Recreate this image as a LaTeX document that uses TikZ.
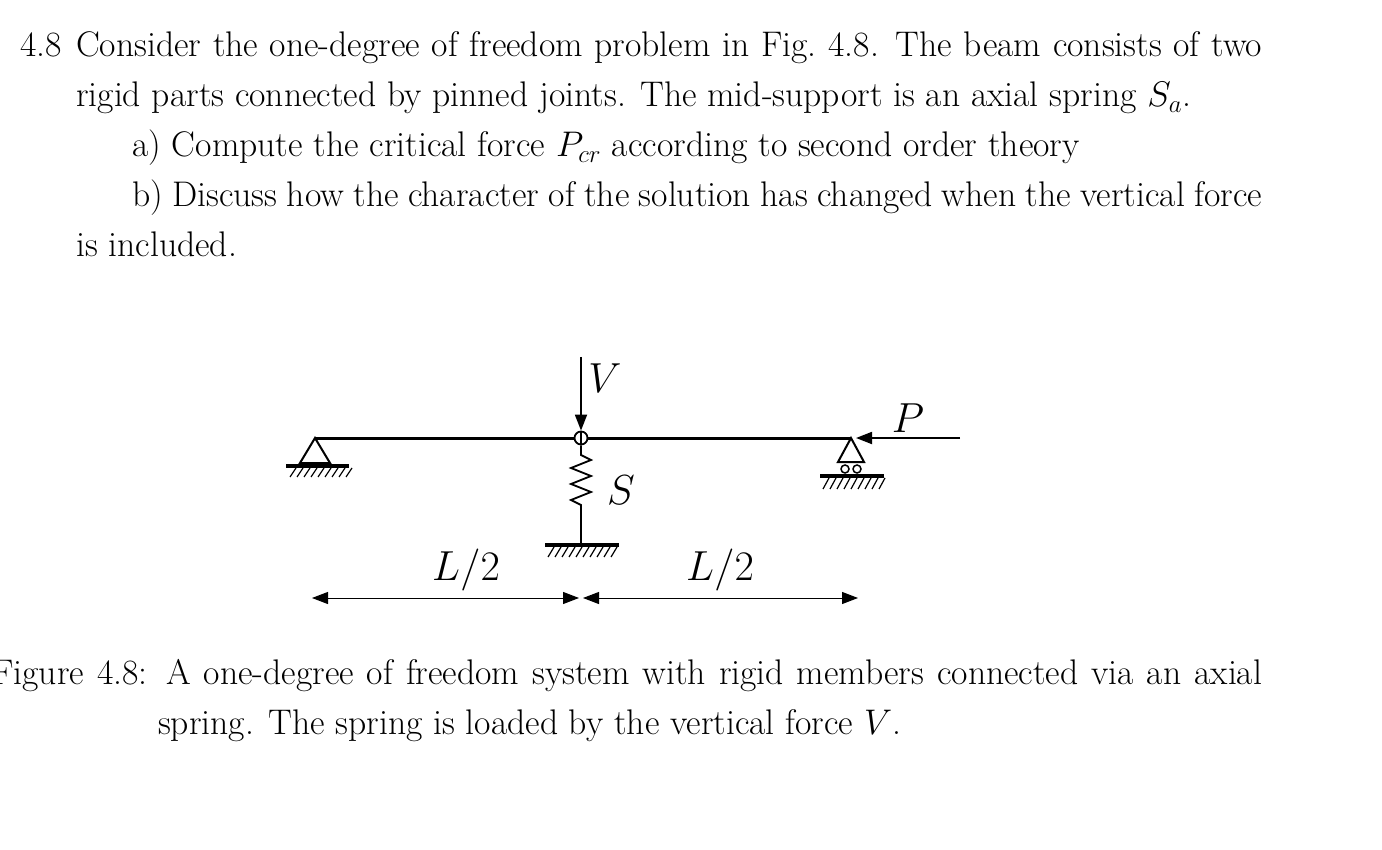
\RequirePackage{fix-cm}
\documentclass[tikz,border=0pt]{standalone}
\usetikzlibrary{arrows.meta}
\begin{document}
\begin{tikzpicture}[x=1pt,y=-1pt,
 txt/.style={anchor=base west,inner sep=0pt,font=\fontsize{35.6}{50}\selectfont},
 lbl/.style={inner sep=0pt,font=\fontsize{42}{48}\selectfont},
 beam/.style={line width=3pt},
 force/.style={line width=1.8pt,-{Triangle[length=16pt,width=12pt]}},
 dim/.style={line width=1pt,{Triangle[length=16pt,width=12pt]}-{Triangle[length=16pt,width=12pt]}},
 grd/.style={line width=4pt},
 sup/.style={line width=2pt}]
\useasboundingbox (0,0) rectangle (1382,850);
\node[txt] (t0) at (20,57) {4.8};
\node[txt] (t1) at (76,57) {\hbox to 1186pt{Consider the one-degree of freedom problem in Fig.\ 4.8. The beam consists of two}};
\node[txt] (t2) at (76,107) {rigid parts connected by pinned joints. The mid-support is an axial spring $S_a$.};
\node[txt] (t3) at (132,157) {a) Compute the critical force $P_{cr}$ according to second order theory};
\node[txt] (t4) at (132,207) {\hbox to 1130pt{b) Discuss how the character of the solution has changed when the vertical force}};
\node[txt] (t5) at (76,257) {is included.};
\node[txt] (c1) at (-8,684) {\hbox to 1270pt{Figure 4.8: A one-degree of freedom system with rigid members connected via an axial}};
\node[txt] (c2) at (158,734) {spring. The spring is loaded by the vertical force $V$.};
% beam
\coordinate (A) at (315,438);
\coordinate (B) at (851,438);
\node[circle,draw,line width=1.8pt,minimum size=13pt,inner sep=0pt] (H) at (581,438) {};
\draw[beam] (A) -- (H.west);
\draw[beam] (H.east) -- (B);
\draw[line width=1.5pt] (H.north) -- (H.south);
% left support
\draw[sup] (A) -- (300,463) -- (330,463) -- cycle;
\draw[grd] (286,466) -- (349,466);
\foreach \i in {0,...,8} \draw[line width=1.2pt] (290+\i*7,477) -- (296+\i*7,468);
% right support
\draw[sup] (B) -- (838,462) -- (864,462) -- cycle;
\draw[line width=1.5pt] (845,469) circle (4);
\draw[line width=1.5pt] (857,469) circle (4);
\draw[grd] (820,476) -- (884,476);
\foreach \i in {0,...,8} \draw[line width=1.2pt] (823+\i*7,489) -- (829+\i*7,478);
% spring
\draw[line width=1.8pt] (H.south) -- (581,455) -- (591,460) -- (571,468) -- (591,476) -- (571,484) -- (591,492) -- (571,500) -- (581,505) -- (581,545);
\draw[grd] (545,545) -- (619,545);
\foreach \i in {0,...,9} \draw[line width=1.2pt] (548+\i*7,557) -- (554+\i*7,547);
\node[lbl] (S) at (621,490) {$S$};
% forces
\coordinate (Vt) at (581,357);
\draw[force] (Vt) -- (H.north);
\node[lbl] (V) at (605,378) {$V$};
\coordinate (Pt) at (960,438);
\draw[force] (Pt) -- ([xshift=5pt]B);
\node[lbl] (P) at (908,418) {$P$};
% dimensions
\coordinate (D1) at (312,598);
\coordinate (D2) at (581,598);
\coordinate (D3) at (858,598);
\draw[dim] (D1) -- ([xshift=-2pt]D2);
\draw[dim] ([xshift=2pt]D2) -- (D3);
\node[lbl] (L1) at (466,570) {$L/2$};
\node[lbl] (L2) at (720,570) {$L/2$};
\end{tikzpicture}
\end{document}
